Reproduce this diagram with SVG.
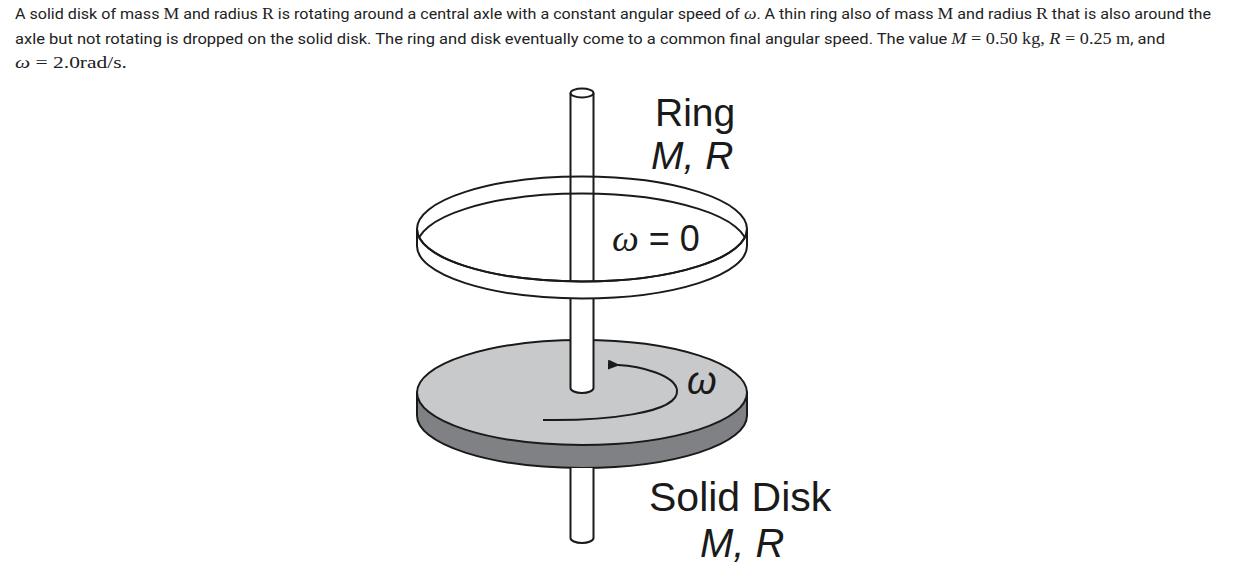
<svg xmlns="http://www.w3.org/2000/svg" width="1234" height="569" viewBox="0 0 1234 569">
<style>
.t{font-family:Roboto,"Liberation Sans",sans-serif;font-size:15px;fill:#222}
.m{font-family:"Liberation Serif","DejaVu Serif",serif;font-size:16.5px}
.i{font-style:italic}
.s{stroke:#1a1a1a;stroke-width:2;}
.lb{font-family:"Liberation Sans",Arial,sans-serif;fill:#1a1a1a}
</style>
<defs>
<marker id="ah" markerWidth="12" markerHeight="10" refX="2" refY="5" orient="auto" markerUnits="userSpaceOnUse"><path d="M12,0 L0,5 L12,10 Z" fill="#1a1a1a"/></marker>
</defs>
<rect width="1234" height="569" fill="#fff"/>
<g id="problem-text">
<text class="t" x="15" y="19" textLength="1196" lengthAdjust="spacingAndGlyphs">A solid disk of mass <tspan class="m">M</tspan> and radius <tspan class="m">R</tspan> is rotating around a central axle with a constant angular speed of <tspan class="m i">ω</tspan>. A thin ring also of mass <tspan class="m">M</tspan> and radius <tspan class="m">R</tspan> that is also around the</text>
<text class="t" x="15" y="44" textLength="1150" lengthAdjust="spacingAndGlyphs">axle but not rotating is dropped on the solid disk. The ring and disk eventually come to a common final angular speed. The value <tspan class="m i">M</tspan><tspan class="m"> = 0.50 kg, </tspan><tspan class="m i">R</tspan><tspan class="m"> = 0.25 m</tspan>, and</text>
<text class="t" x="15" y="68" textLength="112" lengthAdjust="spacingAndGlyphs"><tspan class="m i">ω</tspan><tspan class="m"> = 2.0rad/s.</tspan></text>
</g>
<g id="disk">
<path class="s" d="M417,392.5 L417,415.5 A165,52.5 0 0 0 747,415.5 L747,392.5 Z" fill="#808184"/>
<ellipse class="s" cx="582" cy="392.5" rx="165" ry="52.5" fill="#c8c9cb"/>
</g>
<g id="axle">
<path class="s" d="M570.5,468 L570.5,538 A11.5,5 0 0 0 593.5,538 L593.5,468" fill="#fff"/>
<path class="s" d="M570.5,93 L570.5,388 A11.5,5 0 0 0 593.5,388 L593.5,93" fill="#fff"/>
<ellipse class="s" cx="582" cy="93" rx="11.5" ry="4.5" fill="#fff"/>
</g>
<g id="ring">
<path class="s" d="M417,229 A165,52.5 0 0 1 747,229 M417,246 A165,52.5 0 0 1 747,246" fill="none"/>
<path class="s" d="M417,229 A165,52.5 0 0 0 747,229 L747,246 A165,52.5 0 0 1 417,246 Z" fill="#fff"/>
<path class="s" d="M417,229 A165,52.5 0 0 0 747,229" fill="none"/>
</g>
<g id="connectors">
<path class="s" d="M543,420 C600,421 680,414 677,390 C675,375 640,366 618,365" fill="none" stroke-width="2.2" marker-end="url(#ah)"/>
</g>
<g id="labels">
<text class="lb" x="655" y="126" font-size="39">Ring</text>
<text class="lb" x="651" y="169" font-size="39" font-style="italic">M, R</text>
<text class="lb" x="612" y="251" font-size="36"><tspan font-family="Liberation Serif,serif" font-style="italic" font-size="38">ω</tspan> = 0</text>
<text class="lb" x="687" y="394" font-size="38" font-family="Liberation Serif,serif" font-style="italic">ω</text>
<text class="lb" x="649" y="511" font-size="41">Solid Disk</text>
<text class="lb" x="700" y="557" font-size="40" font-style="italic">M, R</text>
</g>
</svg>
